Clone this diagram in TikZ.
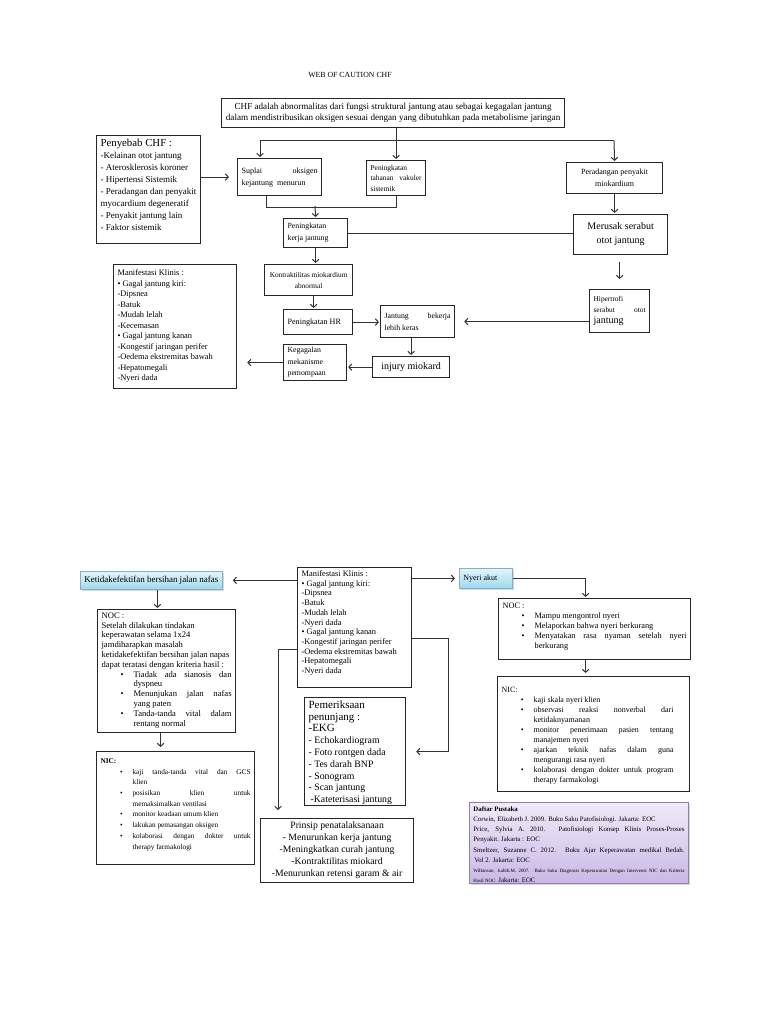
\documentclass[tikz,border=0pt]{standalone}
\usepackage{fontspec}
\setmainfont{Liberation Serif}
\usetikzlibrary{arrows.meta,shadows}

\definecolor{birumuda}{HTML}{E3F5FB}
\definecolor{birutua}{HTML}{9ED8EC}
\definecolor{garisbiru}{HTML}{86AFC2}
\definecolor{unguatas}{HTML}{F0EAF8}
\definecolor{ungubawah}{HTML}{C9B8E6}
\definecolor{garisungu}{HTML}{8F7FB0}

\hyphenpenalty=10000
\exhyphenpenalty=10000

% isi kotak: [posisi]{tinggi}{lebar}{teks}
\newcommand{\isikotak}[4][t]{\parbox[t][#2][#1]{#3}{#4}}
\newcommand{\butir}[1]{\par\hangindent=32pt\hangafter=0\noindent\llap{•\hspace{10pt}}#1\par}

\begin{document}
\begin{tikzpicture}[x=1pt,y=-1pt,
	kotak/.style={draw=black!85, line width=1.2pt, anchor=north west, inner xsep=4pt, inner ysep=3pt},
	kotakbiru/.style={kotak, draw=garisbiru, line width=0.8pt, top color=birumuda, bottom color=birutua,
		drop shadow={shadow xshift=1.5pt, shadow yshift=-1.5pt, opacity=0.3}},
	kotakungu/.style={kotak, draw=garisungu, line width=0.9pt, top color=unguatas, bottom color=ungubawah,
		drop shadow={shadow xshift=1.5pt, shadow yshift=-1.5pt, opacity=0.3}},
	panah/.style={draw=black!80, line width=1pt, -{Straight Barb[length=3pt,width=6.5pt]}, shorten >=1pt},
	garis/.style={draw=black!80, line width=1pt}]

		\fill[white] (0,0) rectangle (768,1024);
		\useasboundingbox (0,0) rectangle (768,1024);

		% bagian atas
		\node[font=\fontsize{7.8}{9}\selectfont] (judul) at (350,75) {WEB OF CAUTION CHF};

		\node[kotak, font=\fontsize{9.1}{11}\selectfont] (chf) at (221,98)
			{\isikotak[c]{23pt}{335pt}{\centering CHF adalah abnormalitas dari fungsi struktural jantung atau sebagai kegagalan jantung\\ dalam mendistribusikan oksigen sesuai dengan yang dibutuhkan pada metabolisme jaringan}};
		\node[kotak, font=\fontsize{9}{12}\selectfont] (penyebab) at (96,135)
			{\isikotak{102pt}{96pt}{\raggedright{\fontsize{10.8}{12}\selectfont Penyebab CHF :}\\ -Kelainan otot jantung\\ - Aterosklerosis koroner\\ - Hipertensi Sistemik\\ - Peradangan dan penyakit\\ myocardium degeneratif\\ - Penyakit jantung lain\\ - Faktor sistemik}};
		\node[kotak, font=\fontsize{8}{12}\selectfont] (suplai) at (237,158)
			{\isikotak[c]{31pt}{76pt}{Suplai\hfill oksigen\\ kejantung\ \ menurun}};
		\node[kotak, font=\fontsize{7.4}{10.5}\selectfont] (tahanan) at (366,160)
			{\isikotak[c]{29pt}{51pt}{Peningkatan\\ tahanan\hfill vakuler\\ sistemik}};
		\node[kotak, font=\fontsize{8}{12}\selectfont] (peradangan) at (566,162)
			{\isikotak[c]{25pt}{88pt}{\centering Peradangan penyakit\\ miokardium}};
		\node[kotak, font=\fontsize{10}{14}\selectfont] (merusak) at (573,214)
			{\isikotak[c]{34pt}{86pt}{\centering Merusak serabut\\ otot jantung}};
		\node[kotak, font=\fontsize{7.8}{12}\selectfont] (kerja) at (283,218)
			{\isikotak[c]{23pt}{56pt}{Peningkatan\\ kerja jantung}};
		\node[kotak, font=\fontsize{7.3}{11}\selectfont] (kontrak) at (264,264)
			{\isikotak[c]{25pt}{80pt}{\centering Kontraktilitas miokardium\\ abnormal}};
		\node[kotak, font=\fontsize{8.1}{12}\selectfont] (hr) at (283,309)
			{\isikotak[c]{19pt}{61pt}{Peningkatan HR}};
		\node[kotak, font=\fontsize{7.8}{12}\selectfont] (jantung) at (380,305)
			{\isikotak[c]{26pt}{66pt}{Jantung\hfill bekerja\\ lebih keras}};
		\node[kotak, font=\fontsize{10}{12}\selectfont] (injury) at (372,356)
			{\isikotak[c]{15pt}{69pt}{\centering injury miokard}};
		\node[kotak, font=\fontsize{7.8}{11.5}\selectfont] (kegagalan) at (283,344)
			{\isikotak[c]{30pt}{55pt}{Kegagalan\\ mekanisme\\ pemompaan}};
		\node[kotak, font=\fontsize{8.4}{10.5}\selectfont] (manif1) at (113,264)
			{\isikotak{118pt}{115pt}{\raggedright\vspace*{2pt}Manifestasi Klinis :\\ • Gagal jantung kiri:\\ -Dipsnea\\ -Batuk\\ -Mudah lelah\\ -Kecemasan\\ • Gagal jantung kanan\\ -Kongestif jaringan perifer\\ -Oedema ekstremitas bawah\\ -Hepatomegali\\ -Nyeri dada}};
		\node[kotak, font=\fontsize{7.4}{11}\selectfont] (hipertrofi) at (589,289)
			{\isikotak[c]{37pt}{52pt}{Hipertrofi\\ serabut\hfill otot\\ {\fontsize{10}{11}\selectfont jantung}}};

		\coordinate (kiri) at (260,141);
		\coordinate (kanan) at (614,141);
		\coordinate (gabung) at (315,206);

		\draw[panah] (tahanan.north |- chf.south) -- (tahanan.north);
		\draw[garis] (kiri) -- (kanan);
		\draw[panah] (kiri) -- (kiri |- suplai.north);
		\draw[panah] (kanan) -- (peradangan.north);
		\draw[panah, shorten >=8pt] (penyebab.east |- suplai.west) -- (suplai.west);
		\draw[garis] ([xshift=-13pt]suplai.south) -- ++(0,11) -| (tahanan.south);
		\draw[panah] (gabung) -- (kerja.north);
		\draw[garis] (kerja.east) -- (kerja.east -| merusak.west);
		\draw[panah] (kerja.south) -- (kerja.south |- kontrak.north);
		\draw[panah] ([xshift=5pt]kontrak.south) -- ([xshift=5pt]kontrak.south |- hr.north);
		\draw[panah] (hr.east) -- (hr.east -| jantung.west);
		\draw[panah] (jantung.south -| injury.north) -- (injury.north);
		\draw[panah] (injury.west) -- (injury.west -| kegagalan.east);
		\draw[panah, shorten >=10pt] (kegagalan.west) -- (kegagalan.west -| manif1.east);
		\draw[panah] (peradangan.south) -- (peradangan.south |- merusak.north);
		\draw[panah, shorten <=7pt, shorten >=10pt] (merusak.south -| hipertrofi.north) -- (hipertrofi.north);
		\draw[panah, shorten >=9pt] (jantung.east -| hipertrofi.west) -- (jantung.east);

		% bagian bawah
		\node[kotakbiru, font=\fontsize{9}{10}\selectfont] (ketidak) at (80,571)
			{\isikotak[c]{12pt}{134pt}{Ketidakefektifan bersihan jalan nafas}};
		\node[kotak, font=\fontsize{8.4}{9.7}\selectfont] (manif2) at (297,567)
			{\isikotak{114pt}{106pt}{\raggedright Manifestasi Klinis :\\ • Gagal jantung kiri:\\ -Dipsnea\\ -Batuk\\ -Mudah lelah\\ -Nyeri dada\\ • Gagal jantung kanan\\ -Kongestif jaringan perifer\\ -Oedema ekstremitas bawah\\ -Hepatomegali\\ -Nyeri dada}};
		\node[kotakbiru, font=\fontsize{8}{9}\selectfont] (nyeri) at (459,568)
			{\isikotak[c]{14pt}{45pt}{Nyeri akut}};
		\node[kotak, font=\fontsize{8.6}{9.8}\selectfont] (noc1) at (97,609)
			{\isikotak{117pt}{130pt}{{\raggedright NOC :\\ Setelah dilakukan tindakan\\ keperawatan selama 1x24\\ jamdiharapkan masalah\\ ketidakefektifan bersihan jalan napas\\ dapat teratasi dengan kriteria hasil :\par}
			\butir{Tiadak ada sianosis dan\linebreak dyspneu}
			\butir{Menunjukan jalan nafas\linebreak yang paten}
			\butir{Tanda-tanda vital dalam\linebreak rentang normal}}};
		\node[kotak, font=\fontsize{7.3}{10.7}\selectfont] (nic1) at (96,751)
			{\isikotak{107pt}{150pt}{\vspace*{4pt}\textbf{NIC:}\par
			\butir{kaji tanda-tanda vital dan GCS\linebreak klien}
			\butir{posisikan klien untuk\linebreak memaksimalkan ventilasi}
			\butir{monitor keadaan umum klien}
			\butir{lakukan pemasangan oksigen}
			\butir{kolaborasi dengan dokter untuk\linebreak therapy farmakologi}}};
		\node[kotak, font=\fontsize{9.8}{11.8}\selectfont] (pemeriksaan) at (304,697)
			{\isikotak{102pt}{93pt}{\raggedright{\fontsize{11}{11.8}\selectfont Pemeriksaan\\ penunjang :\\ -EKG}\\ - Echokardiogram\\ - Foto rontgen dada\\ - Tes darah BNP\\ - Sonogram\\ - Scan jantung\\ \hspace*{2pt}-Kateterisasi jantung}};
		\node[kotak, font=\fontsize{9.7}{12}\selectfont] (prinsip) at (260,818)
			{\isikotak[c]{58pt}{145pt}{\centering Prinsip penatalaksanaan\\ - Menurunkan kerja jantung\\ -Meningkatkan curah jantung\\ -Kontraktilitas miokard\\ -Menurunkan retensi garam \& air}};
		\node[kotak, font=\fontsize{8.3}{10}\selectfont] (noc2) at (498,598)
			{\isikotak{55pt}{184pt}{\vspace*{1pt}NOC :\par
			\butir{Mampu mengontrol nyeri}
			\butir{Melaporkan bahwa nyeri berkurang}
			\butir{Menyatakan rasa nyaman setelah nyeri\linebreak berkurang}}};
		\node[kotak, font=\fontsize{8}{10}\selectfont] (nic2) at (497,676)
			{\isikotak{109pt}{184pt}{\rightskip=12pt\vspace*{8pt}NIC:\par
			\butir{kaji skala nyeri klien}
			\butir{observasi reaksi nonverbal dari\linebreak ketidaknyamanan}
			\butir{monitor penerimaan pasien tentang\linebreak manajemen nyeri}
			\butir{ajarkan teknik nafas dalam guna\linebreak mengurangi rasa nyeri}
			\butir{kolaborasi dengan dokter untuk program\linebreak therapy farmakologi}}};
		\node[kotakungu, font=\fontsize{6.8}{10.2}\selectfont] (pustaka) at (469,802)
			{\isikotak{75pt}{211pt}{\vspace*{1pt}\textbf{Daftar Pustaka}\\ Corwin, Elizabeth J. 2009. Buku Saku Patofisiologi. Jakarta: EOC\\ Price, Sylvia A. 2010. Patofisiologi Konsep Klinis Proses-Proses\linebreak Penyakit. Jakarta : EOC\\ Smeltzer, Suzanne C. 2012. Buku Ajar Keperawatan medikal Bedah.\linebreak \hspace*{1pt}Vol 2. Jakarta: EOC\\ {\fontsize{4.9}{6}\selectfont Wilkinson, Judith.M. 2007. Buku Saku Diagnosis Keperawatan Dengan Intervensi NIC dan Kriteria\linebreak Hasil NOC:} Jakarta: EOC}};

		\coordinate (belokkiri) at (278,649);
		\coordinate (belokkanan) at (448,638);

		\draw[panah, shorten >=10pt] (manif2.west |- ketidak.east) -- (ketidak.east);
		\draw[panah, shorten >=4pt] (manif2.east |- nyeri.west) -- (nyeri.west);
		\draw[panah] ([xshift=6pt]ketidak.south) -- ([xshift=6pt]ketidak.south |- noc1.north);
		\draw[panah, shorten >=4pt] ([xshift=-6pt]noc1.south) -- ([xshift=-6pt]noc1.south |- nic1.north);
		\draw[panah] (nyeri.east) -| ([xshift=-9pt]noc2.north);
		\draw[panah, shorten >=3pt] ([xshift=-9pt]noc2.south) -- ([xshift=-9pt]noc2.south |- nic2.north);
		\draw[garis] (manif2.west |- belokkiri) -- (belokkiri);
		\draw[panah, shorten >=8pt] (belokkiri) -- (belokkiri |- prinsip.north);
		\draw[garis] (manif2.east |- belokkanan) -- (belokkanan);
		\draw[panah, shorten >=10pt] (belokkanan) |- (pemeriksaan.east);

\end{tikzpicture}
\end{document}
